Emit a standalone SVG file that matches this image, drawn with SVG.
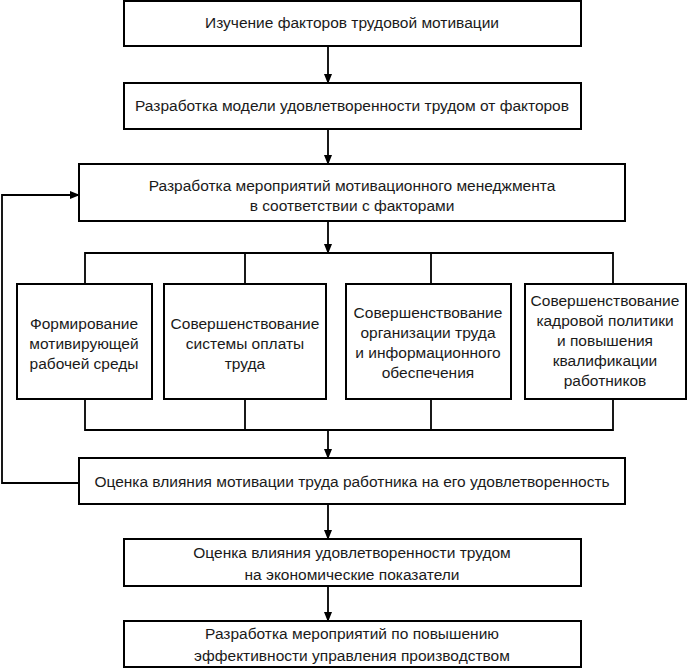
<svg xmlns="http://www.w3.org/2000/svg" width="688" height="669" viewBox="0 0 688 669">
<defs>
<marker id="ah" markerWidth="10" markerHeight="10" refX="9" refY="5" orient="auto" markerUnits="userSpaceOnUse">
<path d="M0,1 L10,5 L0,9 Z" fill="#000"/>
</marker>
<style>
.box{fill:#fff;stroke:#000;stroke-width:2}
.ln{fill:none;stroke:#000;stroke-width:1.8}
text{font-family:"Liberation Sans Narrow","Liberation Sans",Arial,sans-serif;font-size:15.5px;fill:#1a1a1a;text-anchor:middle}
</style>
</defs>
<rect width="688" height="669" fill="#fff"/>
<g id="connectors">
<line class="ln" x1="328" y1="46" x2="328" y2="83" marker-end="url(#ah)"/>
<line class="ln" x1="328" y1="129" x2="328" y2="164" marker-end="url(#ah)"/>
<line class="ln" x1="328" y1="221" x2="328" y2="253" marker-end="url(#ah)"/>
<polyline class="ln" points="85,284 85,253 613,253 613,284"/>
<line class="ln" x1="245" y1="253" x2="245" y2="284"/>
<line class="ln" x1="431" y1="253" x2="431" y2="284"/>
<polyline class="ln" points="85,399 85,430 613,430 613,399"/>
<line class="ln" x1="245" y1="399" x2="245" y2="430"/>
<line class="ln" x1="431" y1="399" x2="431" y2="430"/>
<line class="ln" x1="328" y1="430" x2="328" y2="458" marker-end="url(#ah)"/>
<polyline class="ln" points="80,483 2,483 2,195 79,195" marker-end="url(#ah)"/>
<line class="ln" x1="328" y1="504" x2="328" y2="539" marker-end="url(#ah)"/>
<line class="ln" x1="328" y1="586" x2="328" y2="621" marker-end="url(#ah)"/>
</g>
<g id="n1"><rect class="box" x="124" y="1" width="457" height="45"/><text x="352" y="28">Изучение факторов трудовой мотивации</text></g>
<g id="n2"><rect class="box" x="124" y="83" width="457" height="46"/><text x="352" y="111">Разработка модели удовлетворенности трудом от факторов</text></g>
<g id="n3"><rect class="box" x="79" y="164" width="546" height="57"/><text x="352" y="191">Разработка мероприятий мотивационного менеджмента</text><text x="352" y="211">в соответствии с факторами</text></g>
<g id="n4a"><rect class="box" x="17" y="284" width="135" height="115"/><text x="84" y="329">Формирование</text><text x="84" y="349">мотивирующей</text><text x="84" y="369">рабочей среды</text></g>
<g id="n4b"><rect class="box" x="164" y="284" width="162" height="115"/><text x="245" y="329">Совершенствование</text><text x="245" y="349">системы оплаты</text><text x="245" y="369">труда</text></g>
<g id="n4c"><rect class="box" x="346" y="284" width="165" height="115"/><text x="428" y="318">Совершенствование</text><text x="428" y="338">организации труда</text><text x="428" y="358">и информационного</text><text x="428" y="378">обеспечения</text></g>
<g id="n4d"><rect class="box" x="525" y="284" width="161" height="115"/><text x="605" y="306">Совершенствование</text><text x="605" y="326">кадровой политики</text><text x="605" y="346">и повышения</text><text x="605" y="366">квалификации</text><text x="605" y="386">работников</text></g>
<g id="n5"><rect class="box" x="79" y="458" width="546" height="46"/><text x="352" y="487">Оценка влияния мотивации труда работника на его удовлетворенность</text></g>
<g id="n6"><rect class="box" x="124" y="539" width="457" height="47"/><text x="352" y="558">Оценка влияния удовлетворенности трудом</text><text x="352" y="580">на экономические показатели</text></g>
<g id="n7"><rect class="box" x="124" y="621" width="457" height="46"/><text x="352" y="639">Разработка мероприятий по повышению</text><text x="352" y="661">эффективности управления производством</text></g>
</svg>
